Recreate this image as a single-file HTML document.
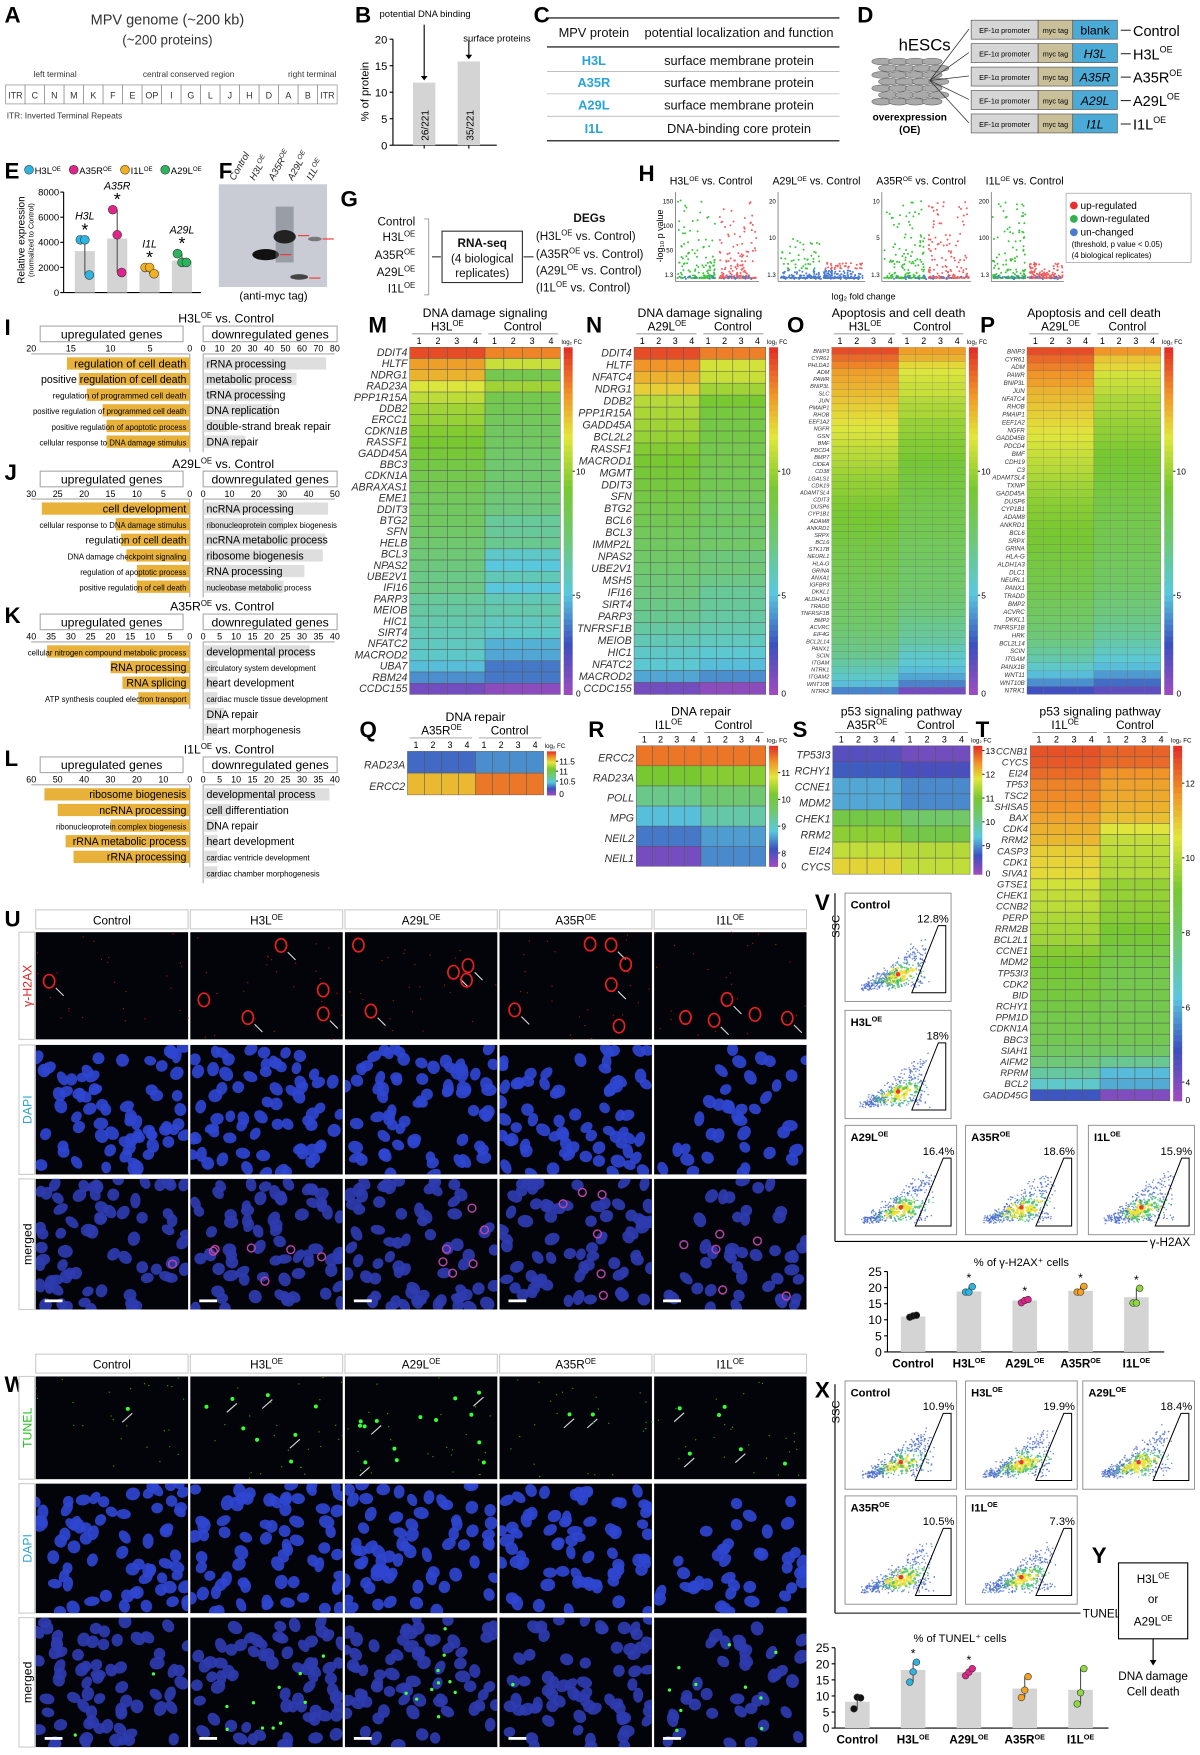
<!DOCTYPE html>
<html><head><meta charset="utf-8"><style>
html,body{margin:0;padding:0;background:#fff;width:1200px;height:1755px;overflow:hidden}
svg{display:block;font-family:"Liberation Sans",sans-serif}
.pl{font-weight:bold;font-size:20px}
</style></head><body>
<svg id="fig" width="1200" height="1755" viewBox="0 0 1075 1572" xmlns="http://www.w3.org/2000/svg">
<rect width="1075" height="1572" fill="#fff"/>
<g>
<text class="pl" x="4" y="20">A</text><text class="pl" x="318" y="20">B</text><text class="pl" x="478" y="20">C</text><text class="pl" x="768" y="20">D</text>
<text class="pl" x="4" y="160">E</text><text class="pl" x="196" y="160">F</text><text class="pl" x="305" y="185">G</text><text class="pl" x="572" y="162">H</text>
<text class="pl" x="4" y="300">I</text><text class="pl" x="4" y="430">J</text><text class="pl" x="4" y="558">K</text><text class="pl" x="4" y="686">L</text>
<text class="pl" x="330" y="298">M</text><text class="pl" x="525" y="298">N</text><text class="pl" x="705" y="298">O</text><text class="pl" x="878" y="298">P</text>
<text class="pl" x="322" y="660">Q</text><text class="pl" x="527" y="660">R</text><text class="pl" x="710" y="660">S</text><text class="pl" x="874" y="660">T</text>
<text class="pl" x="4" y="830">U</text><text class="pl" x="730" y="815">V</text><text class="pl" x="4" y="1247">W</text><text class="pl" x="730" y="1252">X</text><text class="pl" x="978" y="1400">Y</text>
</g>
<g font-size="12" fill="#333">
<text x="150" y="22" text-anchor="middle" font-size="13">MPV genome (~200 kb)</text>
<text x="150" y="40" text-anchor="middle" font-size="12">(~200 proteins)</text>
<text x="30" y="69" font-size="7.5">left terminal</text><text x="128" y="69" font-size="7.5">central conserved region</text><text x="258" y="69" font-size="7.5">right terminal</text>
<g id="genome"></g>
<text x="6" y="106" font-size="7.5">ITR: Inverted Terminal Repeats</text>
</g>
<g id="panelB"></g>
<g font-size="11.5" fill="#111">
<line x1="490" y1="16" x2="752" y2="16" stroke="#000"/><line x1="490" y1="42" x2="752" y2="42" stroke="#000"/>
<text x="532" y="33" text-anchor="middle">MPV protein</text><text x="662" y="33" text-anchor="middle">potential localization and function</text>
<text x="532" y="58" text-anchor="middle" fill="#2aa3d8" font-weight="bold">H3L</text><text x="662" y="58" text-anchor="middle">surface membrane protein</text>
<line x1="490" y1="64" x2="752" y2="64" stroke="#999" stroke-width=".5"/>
<text x="532" y="78" text-anchor="middle" fill="#2aa3d8" font-weight="bold">A35R</text><text x="662" y="78" text-anchor="middle">surface membrane protein</text>
<line x1="490" y1="84" x2="752" y2="84" stroke="#999" stroke-width=".5"/>
<text x="532" y="98" text-anchor="middle" fill="#2aa3d8" font-weight="bold">A29L</text><text x="662" y="98" text-anchor="middle">surface membrane protein</text>
<line x1="490" y1="104" x2="752" y2="104" stroke="#999" stroke-width=".5"/>
<text x="532" y="119" text-anchor="middle" fill="#2aa3d8" font-weight="bold">I1L</text><text x="662" y="119" text-anchor="middle">DNA-binding core protein</text>
<line x1="490" y1="126" x2="752" y2="126" stroke="#000"/>
</g>
<g id="panelD">
<text x="805" y="45" font-size="15">hESCs</text>
<text x="815" y="108" font-size="9" font-weight="bold" text-anchor="middle">overexpression</text>
<text x="815" y="119" font-size="9" font-weight="bold" text-anchor="middle">(OE)</text>
</g>
<g id="panelE"></g>
<g>
<rect x="196" y="165" width="97" height="92" fill="#c9ccd4"/>
<ellipse cx="238" cy="228" rx="12" ry="5" fill="#111"/>
<rect x="247" y="185" width="16" height="50" fill="#6a6d78" opacity=".5"/>
<ellipse cx="255" cy="212" rx="10" ry="6" fill="#222"/>
<ellipse cx="268" cy="248" rx="8" ry="2.5" fill="#444"/>
<ellipse cx="282" cy="214" rx="6" ry="2" fill="#777"/>
<g stroke="#e33"><line x1="251" y1="228" x2="261" y2="228"/><line x1="267" y1="211" x2="277" y2="211"/><line x1="277" y1="249" x2="287" y2="249"/><line x1="289" y1="214" x2="299" y2="214"/></g>
<g font-size="8.5" font-style="italic" fill="#222">
<text transform="translate(210,162) rotate(-60)">Control</text><text transform="translate(228,162) rotate(-60)">H3L<tspan font-size="6" dy="-3">OE</tspan></text>
<text transform="translate(245,162) rotate(-60)">A35R<tspan font-size="6" dy="-3">OE</tspan></text><text transform="translate(262,162) rotate(-60)">A29L<tspan font-size="6" dy="-3">OE</tspan></text>
<text transform="translate(279,162) rotate(-60)">I1L<tspan font-size="6" dy="-3">OE</tspan></text></g>
<text x="245" y="268" font-size="10" text-anchor="middle">(anti-myc tag)</text>
</g>
<g font-size="10.5" fill="#111">
<text x="372" y="202" text-anchor="end">Control</text><text x="372" y="216" text-anchor="end">H3L<tspan font-size="7" dy="-4">OE</tspan></text>
<text x="372" y="232" text-anchor="end">A35R<tspan font-size="7" dy="-4">OE</tspan></text><text x="372" y="247" text-anchor="end">A29L<tspan font-size="7" dy="-4">OE</tspan></text>
<text x="372" y="262" text-anchor="end">I1L<tspan font-size="7" dy="-4">OE</tspan></text>
<path d="M380 196 h4 v68 h-4" fill="none" stroke="#aaa"/>
<line x1="387" y1="230" x2="395" y2="230" stroke="#333"/>
<rect x="396" y="207" width="72" height="46" fill="none" stroke="#333"/>
<text x="432" y="221" text-anchor="middle" font-weight="bold">RNA-seq</text><text x="432" y="235" text-anchor="middle">(4 biological</text><text x="432" y="248" text-anchor="middle">replicates)</text>
<line x1="469" y1="230" x2="478" y2="230" stroke="#333"/>
<text x="528" y="199" text-anchor="middle" font-weight="bold">DEGs</text>
<text x="480" y="215">(H3L<tspan font-size="7" dy="-4">OE</tspan><tspan dy="4"> vs. Control)</tspan></text>
<text x="480" y="231">(A35R<tspan font-size="7" dy="-4">OE</tspan><tspan dy="4"> vs. Control)</tspan></text>
<text x="480" y="246">(A29L<tspan font-size="7" dy="-4">OE</tspan><tspan dy="4"> vs. Control)</tspan></text>
<text x="480" y="261">(I1L<tspan font-size="7" dy="-4">OE</tspan><tspan dy="4"> vs. Control)</tspan></text>
</g>
<g id="panelH"></g>
<g id="panelIL"></g>
<g id="heat"></g>
<g id="micro"></g>
<g id="flow"></g>
<g font-size="10.5" text-anchor="middle">
<rect x="1002" y="1400" width="62" height="68" fill="#fff" stroke="#000"/>
<text x="1033" y="1418">H3L<tspan font-size="7" dy="-4">OE</tspan></text><text x="1033" y="1436">or</text><text x="1033" y="1456">A29L<tspan font-size="7" dy="-4">OE</tspan></text>
<line x1="1033" y1="1468" x2="1033" y2="1490" stroke="#000"/><path d="M1030 1487 l3 5 l3 -5z"/>
<text x="1033" y="1505">DNA damage</text><text x="1033" y="1519">Cell death</text>
</g>
</svg>
<script>
const NS='http://www.w3.org/2000/svg';
function mk(tag,a,p){const e=document.createElementNS(NS,tag);for(const k in a)e.setAttribute(k,a[k]);(p||document.getElementById('fig')).appendChild(e);return e;}
function tx(p,x,y,s,o){const e=mk('text',Object.assign({x:x,y:y},o||{}),p);e.textContent=s;return e;}

const genomeSegs=['ITR','C','N','M','K','F','E','OP','I','G','L','J','H','D','A','B','ITR'];
const bCats=['26/221','35/221'];
const bVals=[11.8,15.8];
const bTicks=[0,5,10,15,20];
const eGroups=['H3L','A35R','I1L','A29L'];
const eColors=['#2eb4e0','#e0248a','#f0b020','#2cb45a'];
const eMeans=[3300,4300,1700,2550];
const ePoints=[[4200,4200,1400],[6600,4600,1600],[2000,2000,1500],[3100,2400,2400]];
const eTicks=[0,2000,4000,6000,8000];
const goI={title:'H3L',upMax:20,upTicks:[20,15,10,5,0],dnMax:80,dnTicks:[0,10,20,30,40,50,60,70,80],
 up:['regulation of cell death','positive regulation of cell death','regulation of programmed cell death','positive regulation of programmed cell death','positive regulation of apoptotic process','cellular response to DNA damage stimulus'],
 upV:[15.5,14,13,11,10.5,10.5],upFs:[10,9.5,7.5,7,7,7],
 dn:['rRNA processing','metabolic process','tRNA processing','DNA replication','double-strand break repair','DNA repair'],dnV:[74,56,43,41,14,25],dnFs:[9.5,9.5,9.5,9.5,9.5,9.5]};
const goJ={title:'A29L',upMax:30,upTicks:[30,25,20,15,10,5,0],dnMax:50,dnTicks:[0,10,20,30,40,50],
 up:['cell development','cellular response to DNA damage stimulus','regulation of cell death','DNA damage checkpoint signaling','regulation of apoptotic process','positive regulation of cell death'],
 upV:[28,14,13,12,10,10],upFs:[10,7,9,7,7,7],
 dn:['ncRNA processing','ribonucleoprotein complex biogenesis','ncRNA metabolic process','ribosome biogenesis','RNA processing','nucleobase metabolic process'],dnV:[47,30,46,45,38,30],dnFs:[9.5,7,9.5,9.5,9.5,7]};
const goK={title:'A35R',upMax:40,upTicks:[40,35,30,25,20,15,10,5,0],dnMax:40,dnTicks:[0,5,10,15,20,25,30,35,40],
 up:['cellular nitrogen compound metabolic process','RNA processing','RNA splicing','ATP synthesis coupled electron transport'],
 upV:[36,20,17,13],upFs:[7,9.5,9.5,7],
 dn:['developmental process','circulatory system development','heart development','cardiac muscle tissue development','DNA repair','heart morphogenesis'],dnV:[32,4,4,4,6,4],dnFs:[9.5,7,9.5,7,9.5,9]};
const goL={title:'I1L',upMax:60,upTicks:[60,50,40,30,20,10,0],dnMax:40,dnTicks:[0,5,10,15,20,25,30,35,40],
 up:['ribosome biogenesis','ncRNA processing','ribonucleoprotein complex biogenesis','rRNA metabolic process','rRNA processing'],
 upV:[55,50,30,47,44],upFs:[9.5,9.5,7,9.5,9.5],
 dn:['developmental process','cell differentiation','DNA repair','heart development','cardiac ventricle development','cardiac chamber morphogenesis'],dnV:[38,8,4,4,4,4],dnFs:[9.5,9.5,9.5,9.5,7,7]};
const mGenes=['DDIT4','HLTF','NDRG1','RAD23A','PPP1R15A','DDB2','ERCC1','CDKN1B','RASSF1','GADD45A','BBC3','CDKN1A','ABRAXAS1','EME1','DDIT3','BTG2','SFN','HELB','BCL3','NPAS2','UBE2V1','IFI16','PARP3','MEIOB','HIC1','SIRT4','NFATC2','MACROD2','UBA7','RBM24','CCDC155'];
const mOE=[14.5,13,12.6,11.4,10.8,10.2,10,9.6,9.4,9.2,8.8,8.6,8.4,8.2,8,8,7.8,7.6,7.4,7.2,7,7,6.6,6.4,6.2,6,5.8,5.6,5,4.2,2];
const mCT=[13.5,11,8.5,10.2,8.6,8.4,8.2,8,8,7.8,7.6,7.6,7.6,7.4,7.2,6.6,6.6,6.8,5.6,5.2,6,5.2,6,6.2,5.8,5.6,4.8,4.6,3.8,3.8,1.5];
const nGenes=['DDIT4','HLTF','NFATC4','NDRG1','DDB2','PPP1R15A','GADD45A','BCL2L2','RASSF1','MACROD1','MGMT','DDIT3','SFN','BTG2','BCL6','BCL3','IMMP2L','NPAS2','UBE2V1','MSH5','IFI16','SIRT4','PARP3','TNFRSF1B','MEIOB','HIC1','NFATC2','MACROD2','CCDC155'];
const nOE=[14.5,13.2,12.6,12,10.6,10.4,10.2,10,9.6,9.4,9.2,9,8.8,8.6,8.4,8.2,8,7.8,7.6,7.4,7.2,7,6.8,6.4,6,5.6,5.4,4.6,2];
const nCT=[13.6,11.2,11,10.2,9.4,9,8.8,8.8,8.6,8.6,8.4,8.4,8.2,7.8,8,7.6,7.8,7.2,7.4,7,6.6,6.6,6.4,6.2,5.8,5.4,5,4.2,1.5];
const oGenes=['BNIP3','CYR61','PHLDA1','ADM','PAWR','BNIP3L','SLC','JUN','PMAIP1','RHOB','EEF1A2','NGFR','GSN','BMF','PDCD4','BMP7','CIDEA','CD38','LGALS1','CDK19','ADAMTSL4','CDIT3','DUSP6','CYP1B1','ADAM8','ANKRD1','SRPX','BCL6','STK17B','NEURL1','HLA-G','GRINA','ANXA1','IGFBP3','DKKL1','ALDH1A3','TRADD','TNFRSF1B','BMP2','ACVRC','EIF4G','BCL2L14','PANX1','SCIN','ITGAM','NTRK1','ITGAM2','WNT10B','NTRK2'];
const oOE=[14.5,14,13.5,13,12.8,12.6,12.4,12.2,12,11.8,11.6,11.4,11.2,11,10.8,10.6,10.4,10.2,10,9.9,9.8,9.6,9.5,9.4,9.3,9.2,9,8.9,8.8,8.7,8.6,8.5,8.4,8.3,8.2,8.1,8,7.9,7.8,7.6,7.4,7.2,7,6.8,6.4,6,5.6,5,4];
const oCT=[13,12.6,11.8,11.4,11.2,11,11,10.6,10.4,10.4,10,10,9.8,9.6,9.6,9.4,9.2,9.2,9,9,8.8,8.8,8.6,8.6,8.6,8.4,8.4,8.2,8.2,8,8,7.8,7.8,7.8,7.6,7.6,7.4,7.2,7,6.8,6.6,6.4,6,5.6,5.4,5,4.6,4,2];
const pGenes=['BNIP3','CYR61','ADM','PAWR','BNIP3L','JUN','NFATC4','RHOB','PMAIP1','EEF1A2','NGFR','GADD45B','PDCD4','BMF','CDH19','C3','ADAMTSL4','TXNIP','GADD45A','DUSP6','CYP1B1','ADAM8','ANKRD1','BCL6','SRPX','GRINA','HLA-G','ALDH1A3','DLC1','NEURL1','PANX1','TRADD','BMP2','ACVRC','DKKL1','TNFRSF1B','HRK','BCL2L14','SCIN','ITGAM','PANX1B','WNT11','WNT10B','NTRK1'];
const pOE=[14.5,14,13.6,13.2,13,12.6,12.4,12.2,12,11.8,11.6,11.4,11.2,11,10.8,10.6,10.4,10.2,10,9.8,9.7,9.6,9.5,9.4,9.3,9.2,9,8.9,8.8,8.7,8.6,8.4,8.2,8,7.8,7.6,7.4,7,6.6,6.2,5.6,5,4.2,3];
const pCT=[13.2,12.2,11.8,11.2,11,10.8,10.4,10.4,10.2,10,9.9,9.8,9.6,9.4,9.4,9.2,9.2,9,9,8.8,8.8,8.6,8.6,8.5,8.4,8.4,8.2,8.2,8,8,7.8,7.6,7.4,7.2,7,6.8,6.6,6.2,5.8,5.4,5,4.4,3.6,2.4];
const qGenes=['RAD23A','ERCC2'];const qOE=[10.2,11.6];const qCT=[10.3,11.8];
const rGenes=['ERCC2','RAD23A','POLL','MPG','NEIL2','NEIL1'];const rOE=[11.6,10.2,9.4,8.8,8.4,7.8];const rCT=[11.6,10.3,9.6,9.2,8.6,8.5];
const sGenes=['TP53I3','RCHY1','CCNE1','MDM2','CHEK1','RRM2','EI24','CYCS'];const sOE=[8.4,8.7,9.2,9.2,10.8,11.2,11.6,12];const sCT=[8.2,8.5,9,9,10.4,10.8,11.5,11.6];
const tGenes=['CCNB1','CYCS','EI24','TP53','TSC2','SHISA5','BAX','CDK4','RRM2','CASP3','CDK1','SIVA1','GTSE1','CHEK1','CCNB2','PERP','RRM2B','BCL2L1','CCNE1','MDM2','TP53I3','CDK2','BID','RCHY1','PPM1D','CDKN1A','BBC3','SIAH1','AIFM2','RPRM','BCL2','GADD45G'];
const tOE=[12.6,12.5,12.3,12,11.9,11.8,11.6,11.4,11.3,11,10.9,10.8,10.4,10.2,10.1,9.9,9.8,9.7,9.4,9.2,9.1,9,8.9,8.8,8.7,8.6,8.5,8.2,7.8,7.2,6.6,5];
const tCT=[12.4,12.3,11.8,11.6,11.5,11.4,11.2,10.6,10.2,10.1,10,10,9.6,9.6,9.5,9.4,9.2,9.1,8.9,8.8,8.7,8.7,8.7,8.6,8.6,8.6,8.5,8.2,7.4,6.2,6,4];
const flowVCats=['Control','H3L','A29L','A35R','I1L'];
const flowVPct=['12.8%','18%','16.4%','18.6%','15.9%'];
const vMeans=[11,18.8,16,19,17];
const vPts=[[10.8,11.2,11.4],[18.6,18.6,20.3],[15.3,16,16.3],[18.6,18.6,20.4],[15.2,15.2,19.8]];
const flowXPct=['10.9%','19.9%','18.4%','10.5%','7.3%'];
const xCats=['Control','H3L','A29L','A35R','I1L'];
const xMeans=[8.2,18.1,17.4,12.3,11.9];
const xPts=[[6,9.6,9.4],[14.3,17.5,20.5],[16.3,17.4,18.5],[9.5,11.8,16],[7.5,11,18.5]];
const barColors=['#111','#2eb4e0','#e0248a','#f5a020','#8ed840'];

(function(){const g=document.getElementById('genome');const w=297/genomeSegs.length;
genomeSegs.forEach((s,i)=>{const r=mk('rect',{x:5+i*w,y:76,width:w,height:17,fill:'#fff',stroke:'#888','stroke-width':.6},g);

tx(g,5+i*w+w/2,88,s,{'text-anchor':'middle','font-size':8});});})();

(function(){const g=document.getElementById('panelB');const y0=130,sc=4.75,ax=352;
const y=v=>y0-v*sc;
mk('line',{x1:ax,y1:y(20),x2:ax,y2:y0,stroke:'#000'},g);mk('line',{x1:ax,y1:y0,x2:445,y2:y0,stroke:'#000'},g);
bTicks.forEach(t=>{mk('line',{x1:ax-3,y1:y(t),x2:ax,y2:y(t),stroke:'#000'},g);tx(g,ax-5,y(t)+4,t,{'text-anchor':'end','font-size':10});});
tx(g,0,0,'% of protein',{'font-size':10,transform:'translate(330,82) rotate(-90)','text-anchor':'middle'});
bVals.forEach((v,i)=>{const x=370+i*40;const r=mk('rect',{x:x,y:y(v),width:20,height:v*sc,fill:'#d4d4d4'},g);

tx(g,0,0,bCats[i],{'font-size':9,transform:`translate(${x+14},${y0-4}) rotate(-90)`});
mk('line',{x1:x+10,y1:y0,x2:x+10,y2:y0+3,stroke:'#000'},g);
mk('line',{x1:x+10,y1:i?36:22,x2:x+10,y2:y(v)-3,stroke:'#000'},g);mk('path',{d:`M${x+7} ${y(v)-6} l3 4 l3 -4z`},g);});
tx(g,340,15,'potential DNA binding',{'font-size':8.5});tx(g,415,37,'surface proteins',{'font-size':8.5});})();

(function(){const g=document.getElementById('panelD');
for(let r=0;r<7;r++)for(let c=0;c<4;c++){mk('ellipse',{cx:790+c*15+(r%2)*6,cy:55+r*6,rx:9,ry:3,fill:'#aaa',stroke:'#666','stroke-width':.5},g);}
const labs=['Control','H3L','A35R','A29L','I1L'],box=['blank','H3L','A35R','A29L','I1L'];
labs.forEach((l,i)=>{const y=18+i*21;
mk('line',{x1:833,y1:72,x2:868,y2:y+8,stroke:'#333','stroke-width':.7},g);
const r1=mk('rect',{x:870,y:y,width:60,height:17,fill:'#d6d6d6',stroke:'#555','stroke-width':.6},g);
tx(g,900,y+11.5,'EF-1α promoter',{'font-size':6.5,'text-anchor':'middle'});
mk('rect',{x:930,y:y,width:31,height:17,fill:'#c9bf98',stroke:'#555','stroke-width':.6},g);tx(g,945.5,y+11.5,'myc tag',{'font-size':6.5,'text-anchor':'middle'});
mk('rect',{x:961,y:y,width:40,height:17,fill:'#4baad6',stroke:'#555','stroke-width':.6},g);
tx(g,981,y+13,box[i],{'font-size':11,'text-anchor':'middle','font-style':i?'italic':'normal'});
mk('line',{x1:1004,y1:y+9,x2:1013,y2:y+9,stroke:'#333'},g);
const t=tx(g,1015,y+14,l,{'font-size':13});if(i){const s=mk('tspan',{'font-size':8,dy:-6},t);s.textContent='OE';}});})();

(function(){const g=document.getElementById('panelE');const ax=57,y0=262,sc=90/8000;const y=v=>y0-v*sc;
const lx=[26,66,112,148];
eGroups.forEach((n,i)=>{mk('circle',{cx:lx[i],cy:152,r:4,fill:eColors[i],stroke:'#333','stroke-width':.5},g);const t=tx(g,lx[i]+5,156,n,{'font-size':8.5});const s=mk('tspan',{'font-size':5.5,dy:-3},t);s.textContent='OE';});
mk('line',{x1:ax,y1:y(8000),x2:ax,y2:y0,stroke:'#000'},g);mk('line',{x1:ax,y1:y0,x2:180,y2:y0,stroke:'#000'},g);
eTicks.forEach(t=>{mk('line',{x1:ax-3,y1:y(t),x2:ax,y2:y(t),stroke:'#000'},g);tx(g,ax-4,y(t)+3,t,{'text-anchor':'end','font-size':8.5});});
tx(g,0,0,'Relative expression',{'font-size':9,transform:'translate(22,215) rotate(-90)','text-anchor':'middle'});
tx(g,0,0,'(normalized to Control)',{'font-size':6.5,transform:'translate(30,215) rotate(-90)','text-anchor':'middle'});
eMeans.forEach((m,i)=>{const cx=76+i*29;const b=mk('rect',{x:cx-9,y:y(m),width:18,height:m*sc,fill:'#d4d4d4'},g);

const pts=ePoints[i];const mx=Math.max(...pts),mn=Math.min(...pts);
mk('line',{x1:cx,y1:y(mx),x2:cx,y2:y(mn),stroke:'#555'},g);
pts.forEach((p,j)=>{const c=mk('circle',{cx:cx+(j-1)*4,cy:y(p),r:4,fill:eColors[i],stroke:'#333','stroke-width':.5},g);});
tx(g,cx,y(mx)-4,'*',{'font-size':16,'text-anchor':'middle'});tx(g,cx,y(mx)-18,eGroups[i],{'font-size':9.5,'font-style':'italic','text-anchor':'middle'});});})();

(function(){const g=document.getElementById('panelH');let s=7;const rnd=()=>{s=(s*16807)%2147483647;return s/2147483647;};
const plots=[{x:605,w:75,t:'H3L',up:1,dn:1,blue:0},{x:697,w:78,t:'A29L',up:.2,dn:.5,blue:1},{x:790,w:80,t:'A35R',up:1,dn:1,blue:0},{x:888,w:65,t:'I1L',up:.2,dn:1,blue:0}];
const yt=[['150','100','50','1.3'],['20','10','1.3'],['10','5','1.3'],['200','100','1.3']];
plots.forEach((p,k)=>{const t=tx(g,p.x-5,165,p.t,{'font-size':9.5});const sp=mk('tspan',{'font-size':6,dy:-3},t);sp.textContent='OE';const s2=mk('tspan',{dy:3},t);s2.textContent='  vs. Control';
mk('line',{x1:p.x,y1:172,x2:p.x,y2:252,stroke:'#555','stroke-width':.6},g);mk('line',{x1:p.x,y1:252,x2:p.x+p.w,y2:252,stroke:'#555','stroke-width':.6},g);
yt[k].forEach((v,j)=>tx(g,p.x-2,182+j*(66/(yt[k].length-1)),v,{'font-size':5.5,'text-anchor':'end'}));
const cx=p.x+p.w/2;
for(let i=0;i<320;i++){const side=rnd()<.5?-1:1;const dx=Math.pow(rnd(),1.3)*p.w*0.45;const hy=Math.pow(rnd(),4)*70*(side<0?p.dn:p.up);
const col=p.blue&&hy<8?'#4a7bd0':(side<0?'#3cc43c':'#f06060');mk('circle',{cx:cx+side*(dx+2),cy:249-hy,r:.9,fill:col},g);}
for(let i=0;i<30;i++)mk('circle',{cx:cx+(rnd()-.5)*p.w*.9,cy:250-rnd()*3,r:.9,fill:'#4a7bd0'},g);});
tx(g,0,0,'-log₁₀ p value',{'font-size':8,transform:'translate(594,235) rotate(-90)'});
tx(g,745,268,'log₂ fold change',{'font-size':8});
mk('rect',{x:955,y:173,width:112,height:62,fill:'#fff',stroke:'#999','stroke-width':.6},g);
[['#e53030','up-regulated'],['#30b050','down-regulated'],['#4a7bd0','un-changed']].forEach((l,i)=>{mk('circle',{cx:962,cy:184+i*12,r:3.5,fill:l[0]},g);tx(g,968,187+i*12,l[1],{'font-size':9});});
tx(g,960,221,'(threshold, p value < 0.05)',{'font-size':7});tx(g,960,231,'(4 biological replicates)',{'font-size':7});})();

function goPanel(d,top){const g=document.getElementById('panelIL');
const uxL=28,ux0=170,dx0=182,dxR=300;const ux=v=>ux0-(ux0-uxL)*v/d.upMax;const dx=v=>dx0+(dxR-dx0)*v/d.dnMax;
const t=tx(g,190,top,d.title,{'font-size':11,'text-anchor':'end'});const sp=mk('tspan',{'font-size':7,dy:-4},t);sp.textContent='OE';
tx(g,193,top,'vs. Control',{'font-size':11});
mk('rect',{x:36,y:top+3,width:128,height:14,fill:'#fff',stroke:'#aaa'},g);tx(g,100,top+14,'upregulated genes',{'font-size':11,'text-anchor':'middle'});
mk('rect',{x:182,y:top+3,width:120,height:14,fill:'#fff',stroke:'#aaa'},g);tx(g,242,top+14,'downregulated genes',{'font-size':11,'text-anchor':'middle'});
const ay=top+28;mk('line',{x1:uxL,y1:ay,x2:ux0,y2:ay,stroke:'#aaa'},g);mk('line',{x1:dx0,y1:ay,x2:dxR,y2:ay,stroke:'#aaa'},g);
d.upTicks.forEach(v=>tx(g,ux(v),ay-2,v,{'font-size':8,'text-anchor':'middle'}));d.dnTicks.forEach(v=>tx(g,dx(v),ay-2,v,{'font-size':8,'text-anchor':'middle'}));
mk('line',{x1:ux0,y1:ay,x2:ux0,y2:ay+d.up.length*14+4,stroke:'#aaa'},g);mk('line',{x1:dx0,y1:ay,x2:dx0,y2:ay+d.dn.length*14+4,stroke:'#aaa'},g);
d.upV.forEach((v,i)=>{const y=ay+3+i*14;const r=mk('rect',{x:ux(v),y:y,width:ux0-ux(v),height:11,fill:'#e8b23a'},g);
tx(g,ux0-3,y+9,d.up[i],{'font-size':d.upFs[i],'text-anchor':'end'});});
d.dnV.forEach((v,i)=>{const y=ay+3+i*14;const r=mk('rect',{x:dx0+1,y:y,width:dx(v)-dx0,height:11,fill:'#dedede'},g);
tx(g,dx0+3,y+9,d.dn[i],{'font-size':d.dnFs[i]});});}
goPanel(goI,289);goPanel(goJ,419);goPanel(goK,547);goPanel(goL,675);

const stops=[[0,[165,75,190]],[0.15,[60,80,190]],[0.3,[90,200,220]],[0.45,[110,200,120]],[0.6,[120,200,50]],[0.75,[225,230,60]],[0.87,[240,150,40]],[1,[225,50,40]]];
function cmap(t){t=Math.max(0,Math.min(1,t));for(let i=1;i<stops.length;i++){if(t<=stops[i][0]){const a=stops[i-1],b=stops[i],f=(t-a[0])/(b[0]-a[0]);return 'rgb('+a[1].map((c,k)=>Math.round(c+(b[1][k]-c)*f)).join(',')+')';}}return 'rgb(225,50,40)';}
function heat(o){const g=document.getElementById('heat');const rows=o.genes.length;const cw=(o.x1-o.x0)/8,rh=(o.y1-o.y0)/rows;
tx(g,(o.x0+o.x1)/2,o.y0-27,o.title,{'font-size':o.tfs||11,'text-anchor':'middle'});
const half=(o.x1-o.x0)/2;
const t1=tx(g,o.x0+half/2,o.y0-15,o.oe,{'font-size':10.5,'text-anchor':'middle'});const sp=mk('tspan',{'font-size':7,dy:-4},t1);sp.textContent='OE';
tx(g,o.x0+half*1.5,o.y0-15,'Control',{'font-size':10.5,'text-anchor':'middle'});
mk('line',{x1:o.x0+2,y1:o.y0-12,x2:o.x0+half-3,y2:o.y0-12,stroke:'#777','stroke-width':.6},g);mk('line',{x1:o.x0+half+3,y1:o.y0-12,x2:o.x1-2,y2:o.y0-12,stroke:'#777','stroke-width':.6},g);
for(let c=0;c<8;c++)tx(g,o.x0+cw*c+cw/2,o.y0-3,(c%4)+1,{'font-size':8,'text-anchor':'middle'});
for(let r=0;r<rows;r++){for(let c=0;c<8;c++){const v=c<4?o.oeV[r]:o.ctV[r];
const cell=mk('rect',{x:o.x0+c*cw,y:o.y0+r*rh,width:cw,height:rh,fill:cmap((v-o.min)/(o.max-o.min)),stroke:'#555','stroke-width':o.sw||.4},g);
}
tx(g,o.x0-2,o.y0+r*rh+rh*0.78,o.genes[r],{'font-size':o.gfs||Math.min(9.5,rh*0.95),'font-style':'italic','text-anchor':'end',fill:'#333'});}
const cb=o.x1+3;for(let i=0;i<60;i++){mk('rect',{x:cb,y:o.y0+i*(o.y1-o.y0)/60,width:8,height:(o.y1-o.y0)/60+.5,fill:cmap(1-i/60)},g);}
tx(g,cb-2,o.y0-3,'log₂ FC',{'font-size':5.5});
o.cbt.forEach(v=>{const yy=o.y1-(v-o.min)/(o.max-o.min)*(o.y1-o.y0);mk('line',{x1:cb+8,y1:yy,x2:cb+10,y2:yy,stroke:'#333'},g);tx(g,cb+11,yy+3,v,{'font-size':7.5});});
tx(g,cb+11,o.y1+2,'0',{'font-size':7.5});}
heat({title:'DNA damage signaling',oe:'H3L',genes:mGenes,oeV:mOE,ctV:mCT,x0:367,x1:502,y0:311,y1:622,min:1,max:15,cbt:[5,10]});
heat({title:'DNA damage signaling',oe:'A29L',genes:nGenes,oeV:nOE,ctV:nCT,x0:568,x1:686,y0:311,y1:622,min:1,max:15,cbt:[5,10]});
heat({title:'Apoptosis and cell death',oe:'H3L',genes:oGenes,oeV:oOE,ctV:oCT,x0:745,x1:865,y0:311,y1:622,min:1,max:15,cbt:[5,10],gfs:5,sw:.15});
heat({title:'Apoptosis and cell death',oe:'A29L',genes:pGenes,oeV:pOE,ctV:pCT,x0:920,x1:1040,y0:311,y1:622,min:1,max:15,cbt:[5,10],gfs:5.5,sw:.15});
heat({title:'DNA repair',oe:'A35R',genes:qGenes,oeV:qOE,ctV:qCT,x0:365,x1:487,y0:673,y1:712,min:9.8,max:12,cbt:[10.5,11,11.5]});
heat({title:'DNA repair',oe:'I1L',genes:rGenes,oeV:rOE,ctV:rCT,x0:570,x1:686,y0:668,y1:776,min:7.5,max:12,cbt:[8,9,10,11]});
heat({title:'p53 signaling pathway',oe:'A35R',genes:sGenes,oeV:sOE,ctV:sCT,x0:746,x1:869,y0:668,y1:783,min:7.8,max:13.2,cbt:[9,10,11,12,13]});
heat({title:'p53 signaling pathway',oe:'I1L',genes:tGenes,oeV:tOE,ctV:tCT,x0:923,x1:1048,y0:668,y1:986,min:3.5,max:13,cbt:[4,6,8,10,12],gfs:8.5});

(function(){const g=document.getElementById('micro');let s=11;const rnd=()=>{s=(s*16807)%2147483647;return s/2147483647;};
const cols=['Control','H3L','A29L','A35R','I1L'];const tx0=32,tw=136.5,step=138.5;
function grid(rows,hy,rowLabels,rowColors,mode){
cols.forEach((c,i)=>{const x=tx0+i*step;mk('rect',{x:x,y:hy,width:tw,height:17,fill:'#fff',stroke:'#ccc'},g);const t=tx(g,x+tw/2,hy+13,c,{'font-size':10.5,'text-anchor':'middle'});if(i){const sp=mk('tspan',{'font-size':7,dy:-4},t);sp.textContent='OE';}});
rows.forEach((r,ri)=>{
mk('rect',{x:tx0-15,y:r[0],width:14,height:r[1]-r[0],fill:'#fff',stroke:'#ccc'},g);
tx(g,0,0,rowLabels[ri],{'font-size':11,fill:rowColors[ri],transform:`translate(${28},${r[0]+(r[1]-r[0])/2}) rotate(-90)`,'text-anchor':'middle'});
cols.forEach((c,i)=>{const x=tx0+i*step;const tile=mk('rect',{x:x,y:r[0],width:tw,height:r[1]-r[0],fill:'#03030a'},g);

const h=r[1]-r[0];
if(ri>0){const cp=mk('clipPath',{id:'cp'+mode+ri+i},g);mk('rect',{x:x,y:r[0],width:tw,height:h},cp);const gg=mk('g',{'clip-path':`url(#cp${mode}${ri}${i})`},g);
const n=Math.round(tw*h/230*(i==4?0.7:1));for(let k=0;k<n;k++){let px=x+rnd()*tw,py=r[0]+rnd()*h;if(i==4&&(px-x)+(py-r[0])*0.6<60)continue;
mk('ellipse',{cx:px,cy:py,rx:5+rnd()*2,ry:4.2+rnd()*1.6,fill:ri==2?'#2e3cb0':'#2f45d0',opacity:.92,transform:`rotate(${rnd()*180} ${px} ${py})`},gg);}
if(ri==2){mk('rect',{x:x+8,y:r[1]-9,width:16,height:2.5,fill:'#fff'},g);
const nd=mode=='U'?(i?6:1):(i==3?1:i?10:2);for(let k=0;k<nd;k++){mk('circle',{cx:x+10+rnd()*(tw-20),cy:r[0]+10+rnd()*(h-20),r:mode=='U'?3.5:1.5,fill:mode=='U'?'none':'#4f4',stroke:mode=='U'?'#b4a':'none','stroke-width':1.3},g);}}}
else{const nd=mode=='U'?[1,5,5,6,5][i]:[1,8,14,2,6][i];for(let k=0;k<nd;k++){const px=x+12+rnd()*(tw-24),py=r[0]+10+rnd()*(h-20);
if(mode=='U'){mk('ellipse',{cx:px,cy:py,rx:5,ry:6,fill:'none',stroke:'#e82020','stroke-width':1.5},g);if(k<3)mk('line',{x1:px+6,y1:py+6,x2:px+13,y2:py+13,stroke:'#ddd','stroke-width':1},g);}
else{mk('circle',{cx:px,cy:py,r:1.8,fill:'#3f3'},g);if(k<3)mk('line',{x1:px+4,y1:py+4,x2:px-5,y2:py+12,stroke:'#ddd','stroke-width':1},g);}}
for(let k=0;k<25;k++)mk('circle',{cx:x+rnd()*tw,cy:r[0]+rnd()*h,r:.6,fill:mode=='U'?'#a11':'#1a1'},g);}});});}
grid([[835,931],[936,1052],[1056,1173]],815,['γ-H2AX','DAPI','merged'],['#e02020','#2aa3d8','#000'],'U');
grid([[1233,1325],[1329,1445],[1449,1565]],1213,['TUNEL','DAPI','merged'],['#20c020','#2aa3d8','#000'],'W');})();

(function(){const g=document.getElementById('flow');let s=5;const rnd=()=>{s=(s*16807)%2147483647;return s/2147483647;};
function plot(x,y,w,h,lab,pct,sup){const b=mk('rect',{x:x,y:y,width:w,height:h,fill:'#fff',stroke:'#888','stroke-width':.8},g);
const t=tx(g,x+5,y+14,lab,{'font-size':10,'font-weight':'bold'});if(sup){const sp=mk('tspan',{'font-size':6.5,dy:-4},t);sp.textContent='OE';}
for(let i=0;i<420;i++){const u=rnd(),v=rnd();const px=x+w*(0.2+0.55*u)+(rnd()-.5)*12;const py=y+h*(0.9-0.45*u*v)-rnd()*6;
const d=Math.abs(u-0.55)+Math.abs(v-0.4);const col=d<.25?'#f0e030':d<.45?'#40c070':'#4a6ad0';mk('circle',{cx:px,cy:py,r:d<.3?1.3:.7,fill:col,opacity:.8},g);}
mk('circle',{cx:x+w*.5,cy:y+h*.75,r:2,fill:'#e33'},g);
mk('path',{d:`M${x+w*.63} ${y+h*.92} L${x+w*.88} ${y+h*.3} L${x+w*.95} ${y+h*.3} L${x+w*.95} ${y+h*.92}Z`,fill:'none',stroke:'#000','stroke-width':.9},g);
tx(g,x+w-2,y+h*.27,pct,{'font-size':10,'text-anchor':'end'});}
plot(757,800,95,97,'Control',flowVPct[0]);plot(757,905,95,97,'H3L',flowVPct[1],1);
plot(757,1008,100,98,'A29L',flowVPct[2],1);plot(865,1008,100,98,'A35R',flowVPct[3],1);plot(975,1008,95,98,'I1L',flowVPct[4],1);
mk('line',{x1:748,y1:1112,x2:1028,y2:1112,stroke:'#000'},g);mk('line',{x1:748,y1:1112,x2:748,y2:800,stroke:'#000'},g);
tx(g,1030,1116,'γ-H2AX',{'font-size':10.5});tx(g,0,0,'SSC',{'font-size':10,transform:'translate(752,840) rotate(-90)'});
plot(757,1237,100,97,'Control',flowXPct[0]);plot(865,1237,100,97,'H3L',flowXPct[1],1);plot(970,1237,100,97,'A29L',flowXPct[2],1);
plot(757,1340,100,97,'A35R',flowXPct[3],1);plot(865,1340,100,97,'I1L',flowXPct[4],1);
mk('line',{x1:748,y1:1445,x2:968,y2:1445,stroke:'#000'},g);mk('line',{x1:748,y1:1445,x2:748,y2:1240,stroke:'#000'},g);
tx(g,970,1449,'TUNEL',{'font-size':10.5});tx(g,0,0,'SSC',{'font-size':10,transform:'translate(752,1275) rotate(-90)'});
function bars(cats,means,pts,top,title,ax,fx,tcx,stars){const y0=top+72,sc=72/25;const y=v=>y0-v*sc;
tx(g,tcx,top-5,title,{'font-size':10,'text-anchor':'middle'});
mk('line',{x1:ax,y1:y(25),x2:ax,y2:y0,stroke:'#000'},g);mk('line',{x1:ax,y1:y0,x2:fx+4*50+25,y2:y0,stroke:'#000'},g);
[0,5,10,15,20,25].forEach(v=>{mk('line',{x1:ax-3,y1:y(v),x2:ax,y2:y(v),stroke:'#000'},g);tx(g,ax-5,y(v)+4,v,{'font-size':11,'text-anchor':'end'});});
means.forEach((m,i)=>{const cx=fx+i*50;const r=mk('rect',{x:cx-11,y:y(m),width:22,height:m*sc,fill:'#d4d4d4'},g);
const mx=Math.max(...pts[i]),mn=Math.min(...pts[i]);mk('line',{x1:cx,y1:y(mx),x2:cx,y2:y(mn),stroke:'#555'},g);
pts[i].forEach((p,j)=>{const c=mk('circle',{cx:cx+(j-1)*3,cy:y(p),r:3,fill:barColors[i],stroke:'#333','stroke-width':.5},g);});
if(i&&stars[i])tx(g,cx,y(mx)-4,'*',{'font-size':11,'text-anchor':'middle'});
const lt=tx(g,cx,y0+14,cats[i],{'font-size':10.5,'font-weight':'bold','text-anchor':'middle'});if(i){const sp=mk('tspan',{'font-size':6.5,dy:-4},lt);sp.textContent='OE';}});}
bars(flowVCats,vMeans,vPts,1139,'% of γ-H2AX⁺ cells',795,818,915,[0,1,1,1,1]);
bars(xCats,xMeans,xPts,1476,'% of TUNEL⁺ cells',748,768,860,[0,1,1,0,0]);})();
</script>
</body></html>
